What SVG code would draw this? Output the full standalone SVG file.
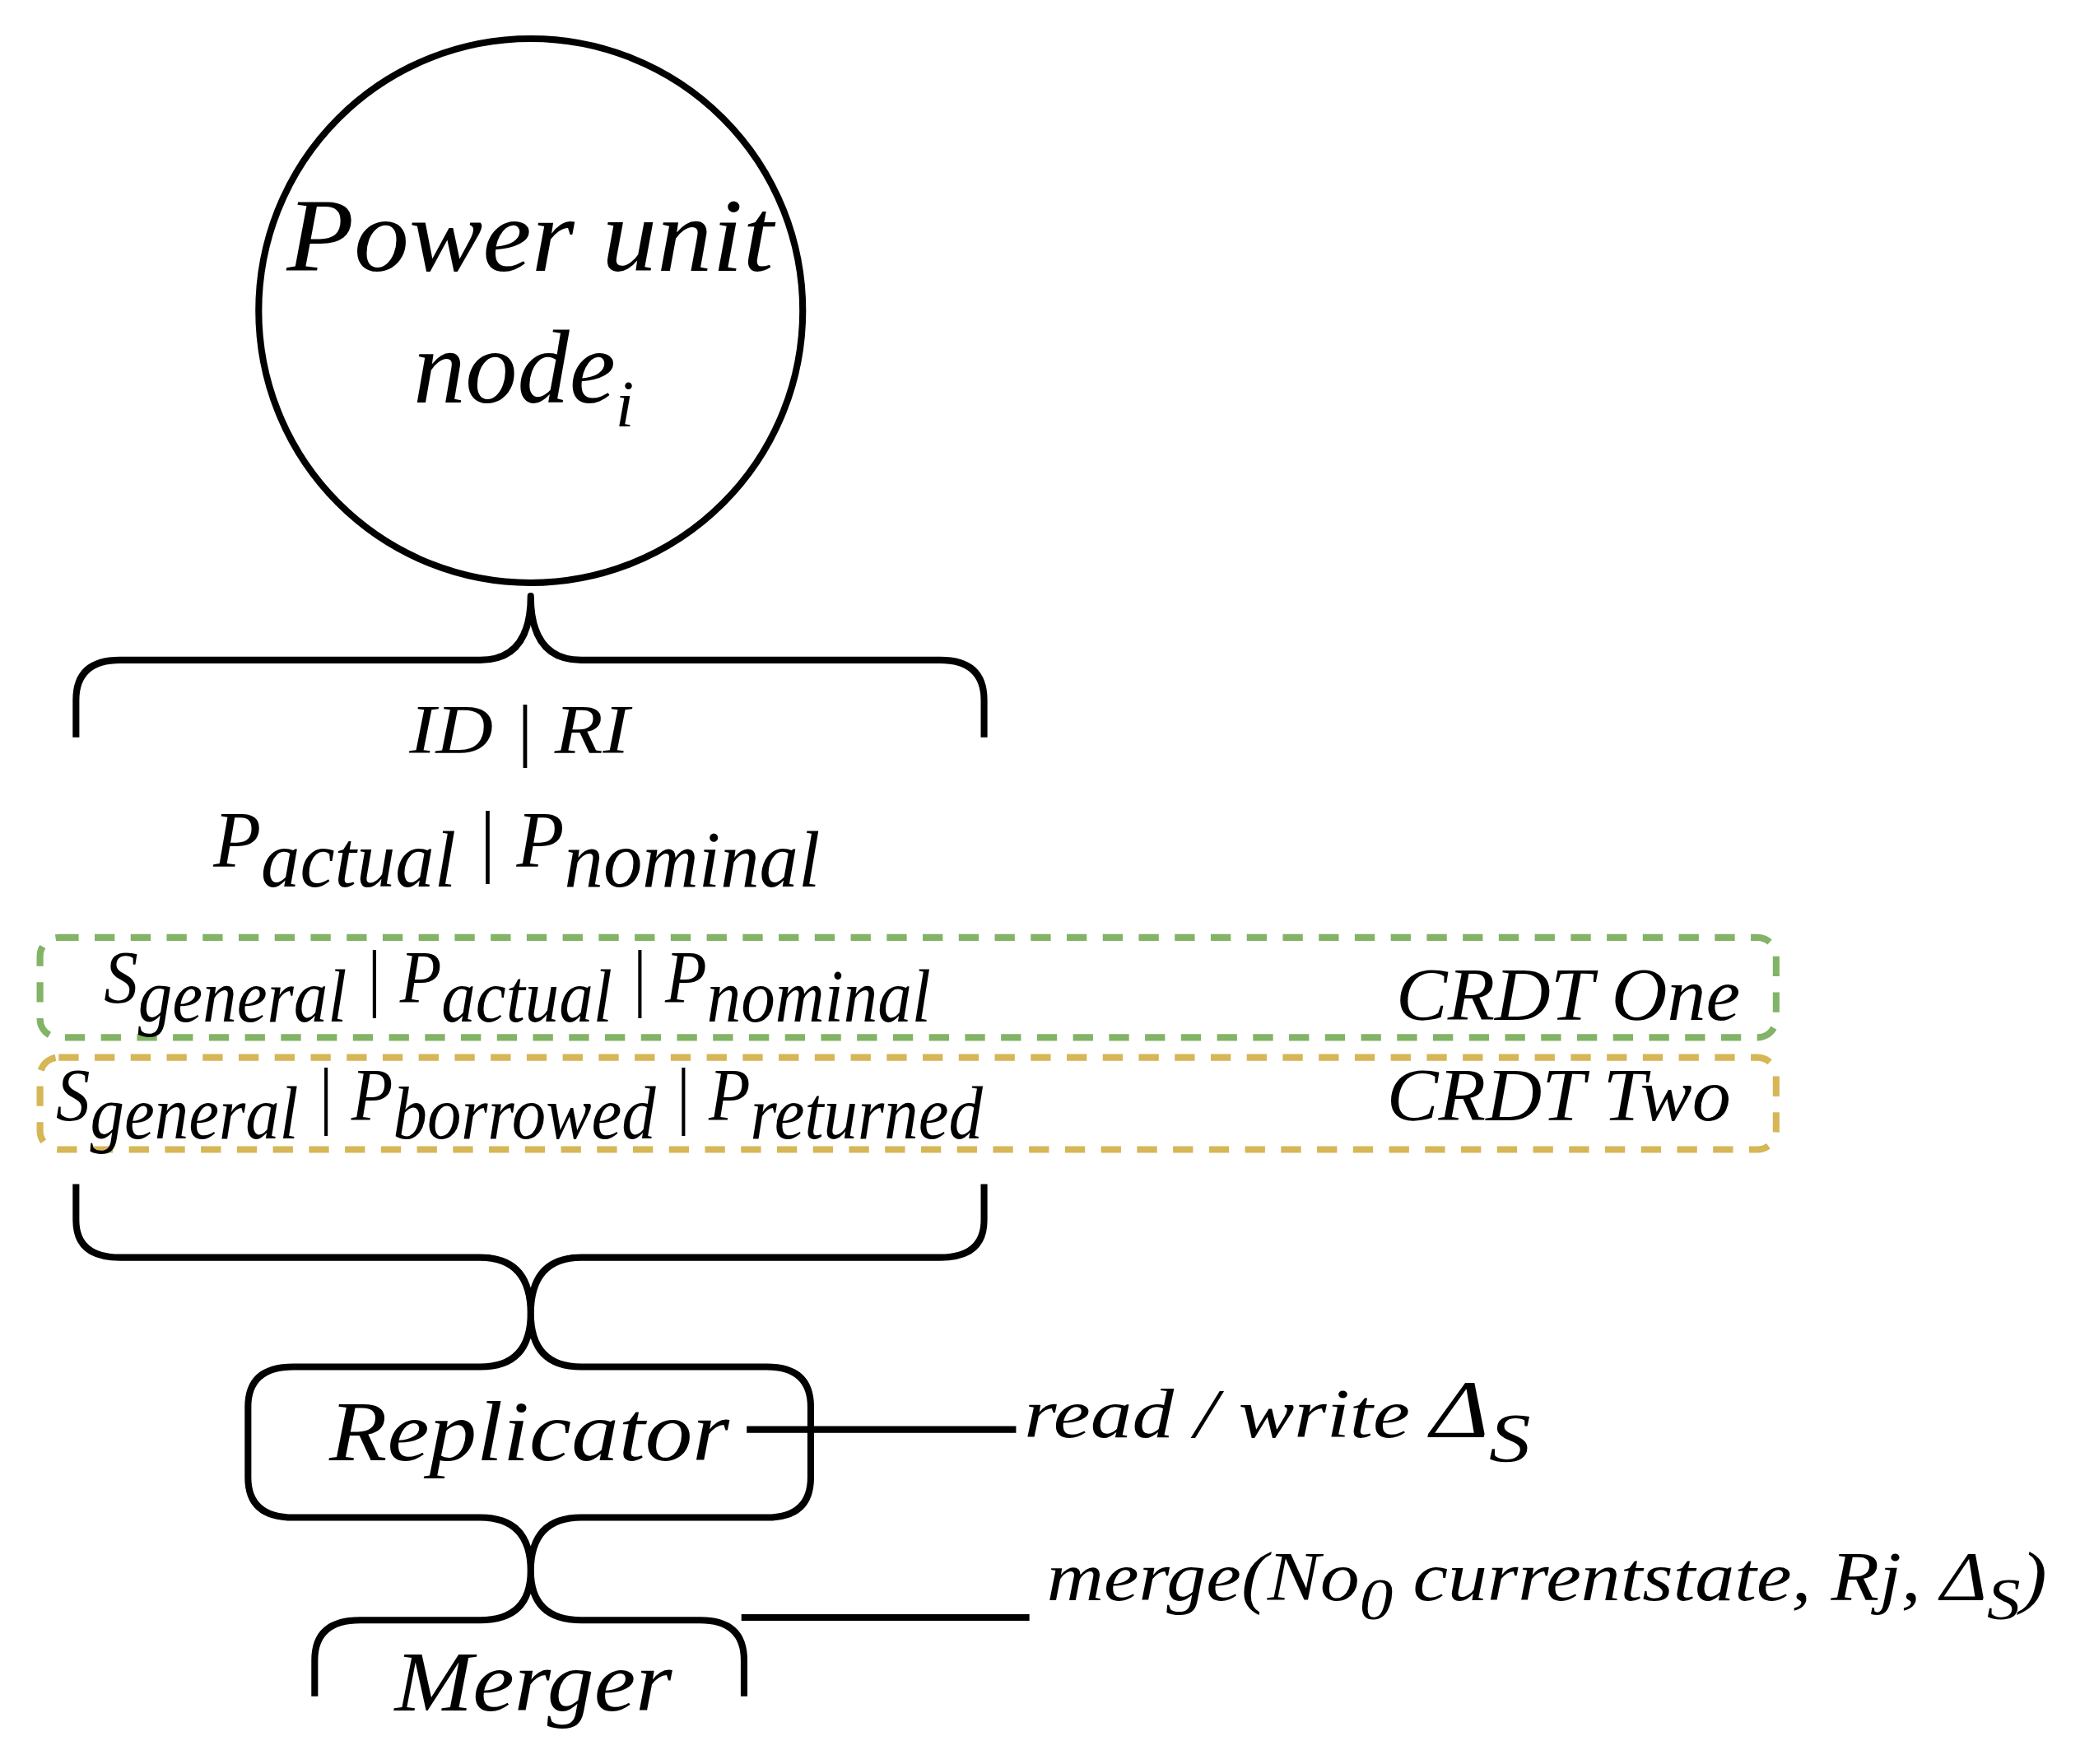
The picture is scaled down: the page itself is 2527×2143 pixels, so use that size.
<svg xmlns="http://www.w3.org/2000/svg" width="2527" height="2143" viewBox="0 0 2527 2143">
<style>
.s{fill:none;stroke:#000;stroke-width:5;stroke-linejoin:round}
.t{font-family:"Liberation Serif",serif;font-style:italic;fill:#000}
</style>
<rect width="2527" height="2143" fill="#fff"/>
<g transform="scale(1.62)">
<g id="power">
<circle cx="398" cy="233" r="204" class="s" stroke-width="4"/>
<text class="t" x="215" y="203" font-size="78" textLength="365" lengthAdjust="spacingAndGlyphs">Power unit</text>
<text class="t" x="310" y="302" font-size="78">node<tspan font-size="50" dy="18">i</tspan></text>
</g>
<g id="connectors">
<path class="s" d="M57,553 V525 Q57,495 90,495 H360 Q398,495 398,447 Q398,495 436,495 H705 Q738,495 738,525 V553"/>
<path class="s" d="M57,888 V915 Q57,943 90,943 H360 Q398,943 398,985 Q398,943 436,943 H705 Q738,943 738,915 V888"/>
<path class="s" d="M398,985 Q398,1025 360,1025 H220 Q186,1025 186,1055 V1108 Q186,1138 220,1138 H360 Q398,1138 398,1178 Q398,1138 436,1138 H575 Q608,1138 608,1108 V1055 Q608,1025 575,1025 H436 Q398,1025 398,985"/>
<path class="s" d="M398,1178 Q398,1215 360,1215 H270 Q236,1215 236,1245 V1272 M398,1178 Q398,1215 436,1215 H525 Q558,1215 558,1245 V1272"/>
<path class="s" stroke-width="3" d="M560,1072 H762 M556,1213 H772"/>
</g>
<g id="header">
<text class="t" x="307" y="565" font-size="52" textLength="165" lengthAdjust="spacingAndGlyphs">ID | RI</text>
<text class="t" x="160" y="650" font-size="60" textLength="455" lengthAdjust="spacingAndGlyphs">P<tspan dy="15">actual</tspan><tspan dy="-15"> | P</tspan><tspan dy="15">nominal</tspan></text>
</g>
<g id="crdt1">
<rect x="30" y="703" width="1302" height="75" rx="14" fill="none" stroke="#82b366" stroke-width="5" stroke-dasharray="15,12"/>
<text class="t" x="78" y="752" font-size="56" textLength="620" lengthAdjust="spacingAndGlyphs">S<tspan dy="14">general</tspan><tspan dy="-14"> | P</tspan><tspan dy="14">actual</tspan><tspan dy="-14"> | P</tspan><tspan dy="14">nominal</tspan></text>
<text class="t" x="1047" y="765" font-size="56" textLength="258" lengthAdjust="spacingAndGlyphs">CRDT One</text>
</g>
<g id="crdt2">
<rect x="30" y="793" width="1302" height="69" rx="14" fill="none" stroke="#d6b656" stroke-width="5" stroke-dasharray="15,12"/>
<text class="t" x="42" y="840" font-size="56" textLength="695" lengthAdjust="spacingAndGlyphs">S<tspan dy="14">general</tspan><tspan dy="-14"> | P</tspan><tspan dy="14">borrowed</tspan><tspan dy="-14"> | P</tspan><tspan dy="14">returned</tspan></text>
<text class="t" x="1040" y="840" font-size="56" textLength="258" lengthAdjust="spacingAndGlyphs">CRDT Two</text>
</g>
<g id="replicator">
<text class="t" x="247" y="1095" font-size="64" textLength="300" lengthAdjust="spacingAndGlyphs">Replicator</text>
<text class="t" x="768" y="1078" font-size="52" textLength="380" lengthAdjust="spacingAndGlyphs">read / write  <tspan font-size="62">Δ</tspan><tspan font-size="52" dy="18">S</tspan></text>
</g>
<g id="merger">
<text class="t" x="296" y="1283" font-size="64" textLength="208" lengthAdjust="spacingAndGlyphs">Merger</text>
<text class="t" x="785" y="1200" font-size="52" textLength="750" lengthAdjust="spacingAndGlyphs">merge(No<tspan font-size="44" dy="14">0</tspan><tspan dy="-14"> currentstate, Rj, Δ</tspan><tspan font-size="44" dy="14">S</tspan><tspan dy="-14">)</tspan></text>
</g>
</g>
</svg>
